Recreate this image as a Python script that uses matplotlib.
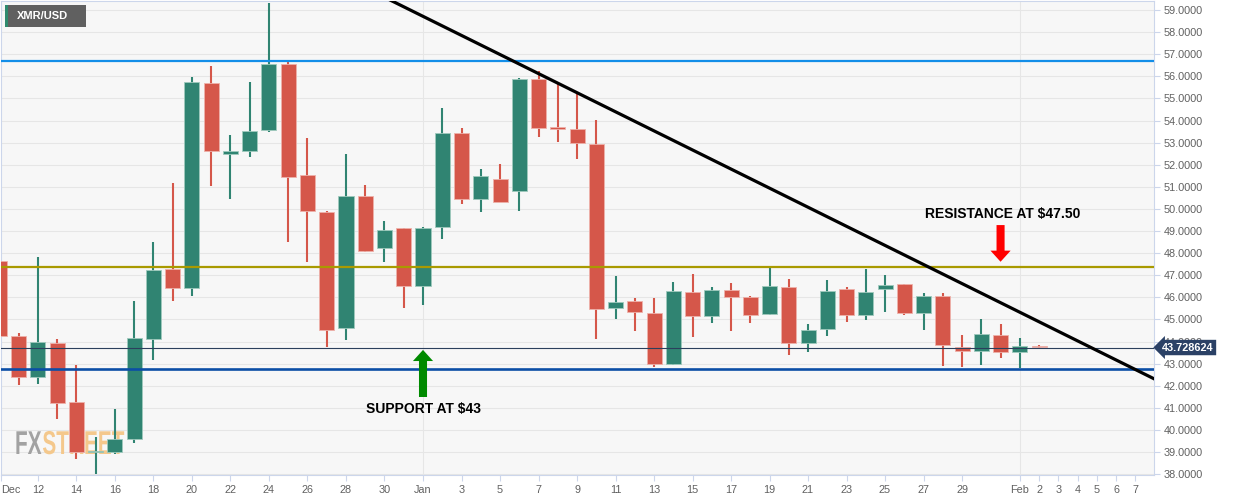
import matplotlib
matplotlib.use("Agg")
import matplotlib.pyplot as plt
import matplotlib.dates as mdates
import matplotlib.transforms as mtransforms
from matplotlib.patches import Rectangle, PathPatch
from matplotlib.textpath import TextPath
from matplotlib.font_manager import FontProperties
import numpy as np
import pandas as pd

plt.rcParams['font.family'] = ['Liberation Sans', 'DejaVu Sans']

# daily candles, Dec 10 -> Feb 2
dates = pd.date_range('2018-12-10', '2019-02-02', freq='D')
opens = [47.64, 44.25, 42.41, 43.92, 41.28, 38.98, 38.99, 39.59, 44.13, 47.28,
         46.43, 55.69, 52.50, 52.62, 53.57, 56.54, 51.53, 49.86, 44.60, 50.58,
         48.22, 49.12, 46.51, 49.17, 53.42, 50.45, 51.34, 50.80, 55.88, 53.72,
         53.60, 52.94, 45.53, 45.85, 45.30, 42.97, 46.25, 45.17, 46.33, 46.00,
         45.23, 46.45, 43.92, 44.55, 46.36, 45.19, 46.38, 46.60, 45.27, 46.06,
         43.74, 43.59, 44.29, 43.54, 43.80]
highs = [48.41, 44.38, 47.81, 44.11, 42.94, 39.66, 40.95, 45.85, 48.50, 51.19,
         55.96, 56.47, 53.34, 55.76, 59.33, 56.66, 53.19, 49.90, 52.48, 51.08,
         49.47, 49.15, 49.20, 54.58, 53.67, 51.81, 52.03, 55.91, 56.24, 55.76,
         55.30, 54.02, 46.96, 45.95, 45.95, 46.69, 47.05, 46.48, 46.66, 46.06,
         47.36, 46.83, 44.79, 46.78, 46.48, 47.28, 47.01, 46.60, 46.18, 46.21,
         44.29, 45.02, 44.79, 44.17, 43.86]
lows = [43.84, 42.03, 42.08, 40.49, 38.68, 37.99, 38.90, 39.42, 43.16, 45.85,
        46.07, 51.05, 50.45, 52.36, 53.49, 48.52, 47.61, 43.74, 44.07, 48.06,
        47.58, 45.50, 45.65, 48.65, 50.21, 49.87, 50.30, 49.92, 53.27, 53.04,
        52.27, 44.10, 45.00, 44.49, 42.83, 42.95, 44.22, 44.82, 44.49, 44.85,
        45.20, 43.39, 43.54, 44.25, 44.89, 44.97, 45.35, 45.20, 44.53, 42.89,
        42.86, 42.94, 43.27, 42.79, 43.65]
closes = [44.25, 42.41, 43.96, 41.20, 38.99, 39.02, 39.59, 44.14, 47.24, 46.43,
          55.76, 52.64, 52.60, 53.54, 56.54, 51.46, 49.92, 44.52, 50.60, 48.11,
          49.05, 46.51, 49.15, 53.42, 50.43, 51.50, 50.30, 55.88, 53.65, 53.63,
          52.97, 45.45, 45.80, 45.32, 42.97, 46.29, 45.17, 46.32, 46.00, 45.20,
          46.51, 43.92, 44.52, 46.30, 45.19, 46.24, 46.55, 45.27, 46.06, 43.84,
          43.59, 44.34, 43.54, 43.80, 43.73]

last_price = 43.728624
upper_res = 56.71
resistance = 47.38
support = 42.77
trend_dates = ['2018-12-30', '2019-02-09']
trend_vals = [59.58, 41.87]

tick_dates = ['2018-12-12', '2018-12-14', '2018-12-16', '2018-12-18', '2018-12-20',
              '2018-12-22', '2018-12-24', '2018-12-26', '2018-12-28', '2018-12-30',
              '2019-01-01', '2019-01-03', '2019-01-05', '2019-01-07', '2019-01-09',
              '2019-01-11', '2019-01-13', '2019-01-15', '2019-01-17', '2019-01-19',
              '2019-01-21', '2019-01-23', '2019-01-25', '2019-01-27', '2019-01-29',
              '2019-02-01', '2019-02-02', '2019-02-03', '2019-02-04', '2019-02-05',
              '2019-02-06', '2019-02-07']
tick_labels = ['12', '14', '16', '18', '20', '22', '24', '26', '28', '30',
               'Jan', '3', '5', '7', '9', '11', '13', '15', '17', '19',
               '21', '23', '25', '27', '29',
               'Feb', '2', '3', '4', '5', '6', '7']
month_lines = ['2019-01-01', '2019-02-01']

GREEN = '#308472'
RED = '#d5574a'

fig = plt.figure(figsize=(12.44, 5.01), dpi=100)
fig.patch.set_facecolor('white')
ax = fig.add_axes([1 / 1244, 26 / 501, 1153 / 1244, 474 / 501])
ax.set_facecolor('#f7f7f7')

x = mdates.date2num(dates)
o = np.array(opens)
c = np.array(closes)
up = c >= o
colors = np.where(up, GREEN, RED)
edges = np.where(up, '#9fcabd', '#eeb1aa')
bottoms = np.minimum(o, c)
heights = np.maximum(np.abs(c - o), 0.08)

ax.vlines(x, lows, highs, colors=colors, linewidth=1.5, zorder=2)
ax.bar(x, heights, bottom=bottoms, width=0.78, color=colors,
       edgecolor=edges, linewidth=0.6, zorder=3)

# levels and trend line
ax.axhline(upper_res, color='#138ee8', lw=1.6, zorder=4)
ax.axhline(resistance, color='#a99a00', lw=1.6, zorder=4)
ax.axhline(last_price, color='#2b3f5c', lw=0.8, zorder=4)
ax.axhline(support, color='#0b4ea6', lw=1.9, zorder=4)
ax.plot(mdates.date2num(pd.to_datetime(trend_dates)), trend_vals,
        color='black', lw=2.3, zorder=5, solid_capstyle='butt')

for d in month_lines:
    ax.axvline(mdates.date2num(pd.Timestamp(d)), color='#e6e6e6', lw=0.8, zorder=0)

# annotations
x_sup = mdates.date2num(pd.Timestamp('2019-01-01'))
x_res = mdates.date2num(pd.Timestamp('2019-01-31'))
arrow_style = 'simple,head_length=0.8,head_width=1.45,tail_width=0.58'
ax.annotate('', xy=(x_sup, 43.62), xytext=(x_sup, 41.49),
            arrowprops=dict(arrowstyle=arrow_style, mutation_scale=10,
                            fc='#008a00', ec='none', shrinkA=0, shrinkB=0), zorder=6)
ax.annotate('', xy=(x_res, 47.61), xytext=(x_res, 49.27),
            arrowprops=dict(arrowstyle=arrow_style, mutation_scale=10,
                            fc='#ff0000', ec='none', shrinkA=0, shrinkB=0), zorder=6)
ax.text(x_sup, 40.95, 'SUPPORT AT $43', ha='center', va='center',
        fontsize=10, fontweight='bold', color='black', zorder=6)
ax.text(x_res + 0.1, 49.75, 'RESISTANCE AT $47.50', ha='center', va='center',
        fontsize=10, fontweight='bold', color='black', zorder=6)

# axes limits and ticks
x0 = mdates.date2num(dates[0])
ax.set_xlim(x0 + 0.08, x0 + 59.97)
ax.set_ylim(37.96, 59.41)

ax.yaxis.tick_right()
ax.set_yticks(np.arange(38, 60))
ax.set_yticklabels(['%.4f' % v for v in np.arange(38, 60)])
ax.grid(axis='y', color='#e6e6e6', lw=0.8, zorder=0)
ax.set_axisbelow(True)

xt = [x0 + 0.08] + list(mdates.date2num(pd.to_datetime(tick_dates)))
ax.set_xticks(xt)
ax.set_xticklabels(['Dec'] + tick_labels)
ax.get_xticklabels()[0].set_ha('left')
ax.tick_params(axis='both', colors='#ccd6eb', labelcolor='#606060',
               labelsize=7.8, length=4, width=0.8, pad=3)

for s in ax.spines.values():
    s.set_color('#ccd6eb')
    s.set_linewidth(0.8)

# last price tag
trans = mtransforms.blended_transform_factory(ax.transAxes, ax.transData)
ax.text(1.0068, last_price, '%.6f' % last_price, transform=trans,
        ha='left', va='center', fontsize=7.8, fontweight='bold', color='white',
        bbox=dict(boxstyle='larrow,pad=0.25', fc='#2b4166', ec='none'),
        zorder=7, clip_on=False)

# symbol label
fig.add_artist(Rectangle((5 / 1244, 1 - 27 / 501), 81 / 1244, 22 / 501,
                         transform=fig.transFigure, fc='#606060', ec='none'))
fig.add_artist(Rectangle((5 / 1244, 1 - 27 / 501), 3 / 1244, 22 / 501,
                         transform=fig.transFigure, fc='#2e8a6e', ec='none'))
fig.text(17 / 1244, 1 - 16 / 501, 'XMR/USD', ha='left', va='center',
         fontsize=8, fontweight='bold', color='white')

# watermark, condensed glyphs behind the candles (pixel coords)
fp = FontProperties(family='Liberation Sans', weight='bold')
squeeze = 0.63
fx_path = TextPath((0, 0), 'FX', size=33, prop=fp)
st_path = TextPath((0, 0), 'STREET', size=33, prop=fp)
fx_w = fx_path.get_extents().x1 * squeeze
base = mtransforms.Affine2D().scale(squeeze, 1)
ax.add_patch(PathPatch(fx_path, transform=base + mtransforms.Affine2D().translate(15, 501 - 454),
                       fc='#a2a2a2', ec='none', zorder=1))
ax.add_patch(PathPatch(st_path, transform=base + mtransforms.Affine2D().translate(15 + fx_w + 1, 501 - 454),
                       fc='#f4c88c', ec='none', zorder=1))
ax.set_xlim(x0 + 0.08, x0 + 59.97)
ax.set_ylim(37.96, 59.41)

fig.savefig('out.png', dpi=100)
